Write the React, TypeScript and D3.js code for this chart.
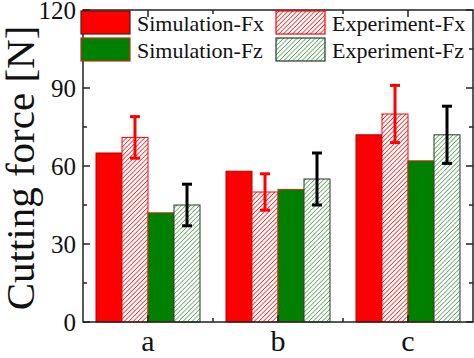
import React from "react";
import * as d3 from "d3";

const categories = ["a", "b", "c"];
const seriesKeys = ["simFx", "expFx", "simFz", "expFz"];
const simFx = [65, 58, 72];
const expFx = [71, 50, 80];
const expFxErr = [8, 7, 11];
const simFz = [42, 51, 62];
const expFz = [45, 55, 72];
const expFzErr = [8, 10, 11];
const yMajorTicks = [0, 30, 60, 90, 120];
const yMinorTicks = [15, 45, 75, 105];

const W = 474;
const H = 358;
const M = { left: 83, right: 473, top: 10, bottom: 322 };
const FONT = "'Liberation Serif', 'Times New Roman', serif";

const RED = "#ff0000";
const GREEN = "#008000";

export default function App() {
  const x = d3.scaleBand<string>().domain(categories).range([M.left, M.right]).padding(0);
  const inner = d3.scaleBand<string>().domain(seriesKeys).range([13, x.bandwidth() - 13]).padding(0);
  const y = d3.scaleLinear().domain([0, 120]).range([M.bottom, M.top]);
  const bw = inner.bandwidth();

  const values: Record<string, number[]> = { simFx, expFx, simFz, expFz };
  const fills: Record<string, string> = {
    simFx: RED,
    expFx: "url(#hatchRed)",
    simFz: GREEN,
    expFz: "url(#hatchGreen)"
  };
  const strokes: Record<string, string> = {
    simFx: "#b00000",
    expFx: RED,
    simFz: "#c03010",
    expFz: "#1f3f1f"
  };

  const errs = [
    { key: "expFx", vals: expFx, err: expFxErr, color: RED },
    { key: "expFz", vals: expFz, err: expFzErr, color: "#000" }
  ];

  const centers = categories.map((c) => (x(c) as number) + x.bandwidth() / 2);
  const bounds = categories.slice(1).map((c) => x(c) as number);

  const legend = [
    { key: "simFx", label: "Simulation-Fx", bx: 81, by: 11, border: "#5a1a10" },
    { key: "simFz", label: "Simulation-Fz", bx: 81, by: 38, border: "#c03010" },
    { key: "expFx", label: "Experiment-Fx", bx: 276, by: 11, border: RED },
    { key: "expFz", label: "Experiment-Fz", bx: 276, by: 38, border: "#1f3f1f" }
  ];

  return (
    <svg width={W} height={H} style={{ position: "absolute", left: 0, top: 0, background: "#fff" }} fontFamily={FONT}>
      <defs>
        <pattern id="hatchRed" patternUnits="userSpaceOnUse" width={3.2} height={3.2} patternTransform="rotate(45)">
          <rect width={3.2} height={3.2} fill="#fff" />
          <line x1={0} y1={0} x2={0} y2={3.2} stroke={RED} strokeWidth={1.4} />
        </pattern>
        <pattern id="hatchGreen" patternUnits="userSpaceOnUse" width={3.2} height={3.2} patternTransform="rotate(45)">
          <rect width={3.2} height={3.2} fill="#fff" />
          <line x1={0} y1={0} x2={0} y2={3.2} stroke="#3a8f3a" strokeWidth={1.3} />
        </pattern>
      </defs>

      {categories.map((c, i) => (
        <g key={c} transform={`translate(${x(c)},0)`}>
          {seriesKeys.map((k) => {
            const v = values[k][i];
            return (
              <rect
                key={k}
                x={inner(k)}
                y={y(v)}
                width={bw}
                height={y(0) - y(v)}
                fill={fills[k]}
                stroke={strokes[k]}
                strokeWidth={1}
              />
            );
          })}
          {errs.map((e) => {
            const cx = (inner(e.key) as number) + bw / 2;
            const hi = y(e.vals[i] + e.err[i]);
            const lo = y(e.vals[i] - e.err[i]);
            return (
              <g key={e.key} stroke={e.color} strokeWidth={3}>
                <line x1={cx} x2={cx} y1={hi} y2={lo} />
                <line x1={cx - 5} x2={cx + 5} y1={hi} y2={hi} />
                <line x1={cx - 5} x2={cx + 5} y1={lo} y2={lo} />
              </g>
            );
          })}
        </g>
      ))}

      {/* frame */}
      <rect x={M.left} y={M.top} width={M.right - M.left} height={M.bottom - M.top} fill="none" stroke="#222" strokeWidth={1.5} />

      {/* y ticks left & right */}
      {yMajorTicks.map((t) => (
        <g key={"ym" + t}>
          <line x1={M.left} x2={M.left + 7} y1={y(t)} y2={y(t)} stroke="#222" strokeWidth={1.5} />
          <line x1={M.right} x2={M.right - 7} y1={y(t)} y2={y(t)} stroke="#222" strokeWidth={1.5} />
          <text x={76} y={Math.max(y(t) + 9, 19)} textAnchor="end" fontSize={25} fill="#111">{t}</text>
        </g>
      ))}
      {yMinorTicks.map((t) => (
        <g key={"yn" + t}>
          <line x1={M.left} x2={M.left + 4} y1={y(t)} y2={y(t)} stroke="#222" strokeWidth={1.5} />
          <line x1={M.right} x2={M.right - 4} y1={y(t)} y2={y(t)} stroke="#222" strokeWidth={1.5} />
        </g>
      ))}

      {/* x ticks top & bottom */}
      {centers.map((cx, i) => (
        <g key={"xm" + i}>
          <line x1={cx} x2={cx} y1={M.top} y2={M.top + 7} stroke="#222" strokeWidth={1.5} />
          <line x1={cx} x2={cx} y1={M.bottom} y2={M.bottom - 7} stroke="#222" strokeWidth={1.5} />
          <text x={cx} y={351} textAnchor="middle" fontSize={30} fill="#111">{categories[i]}</text>
        </g>
      ))}
      {bounds.map((bx, i) => (
        <g key={"xn" + i}>
          <line x1={bx} x2={bx} y1={M.top} y2={M.top + 4} stroke="#222" strokeWidth={1.5} />
          <line x1={bx} x2={bx} y1={M.bottom} y2={M.bottom - 4} stroke="#222" strokeWidth={1.5} />
        </g>
      ))}

      {/* y title */}
      <text transform={`translate(34,168) rotate(-90)`} textAnchor="middle" fontSize={41} fill="#111">
        Cutting force [N]
      </text>

      {/* legend */}
      {legend.map((l) => (
        <g key={l.key}>
          <rect x={l.bx} y={l.by} width={49} height={23} fill={fills[l.key]} stroke={l.border} strokeWidth={1.2} />
          <text x={l.bx + 56} y={l.by + 20} fontSize={22} fill="#111">{l.label}</text>
        </g>
      ))}
    </svg>
  );
}
